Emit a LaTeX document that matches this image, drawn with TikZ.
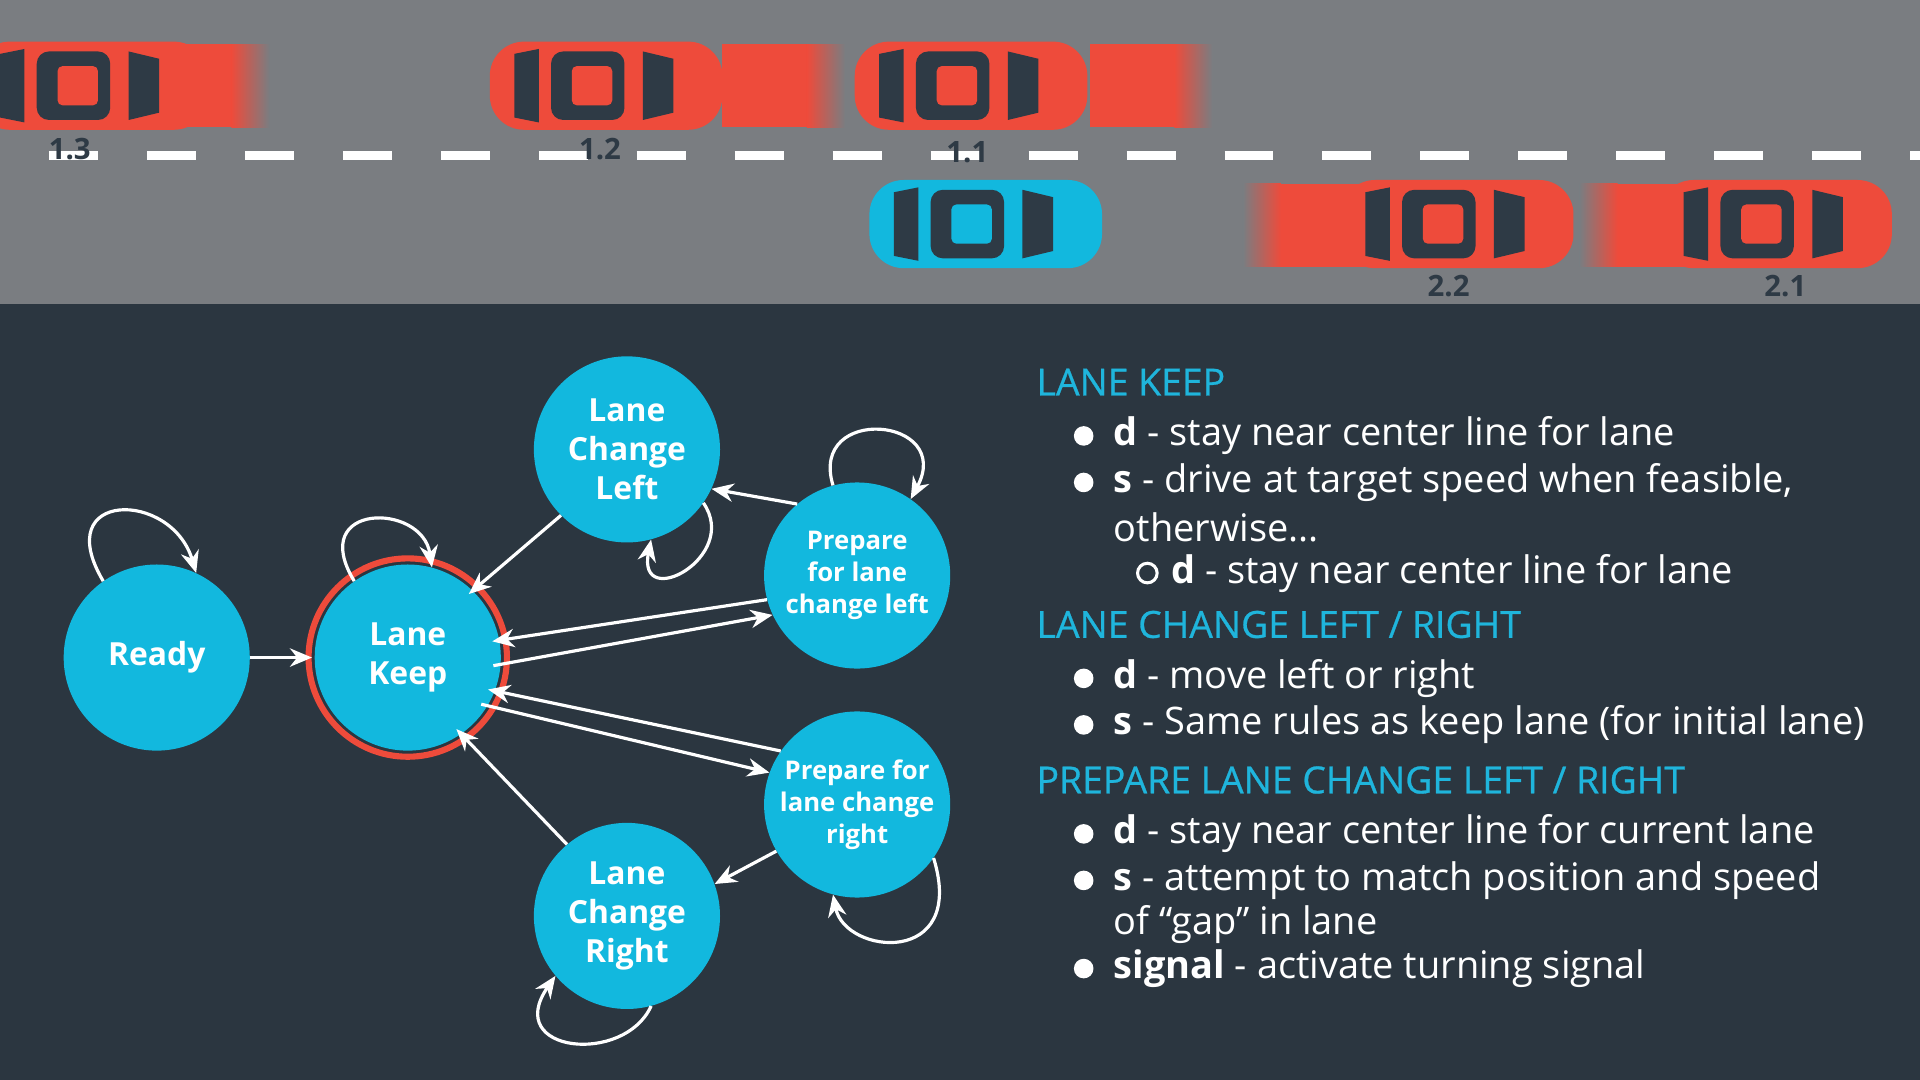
\documentclass[tikz,border=0pt]{standalone}
\usepackage{fontspec}
\setmainfont{Open Sans}
\usetikzlibrary{arrows.meta}
\definecolor{road}{HTML}{7A7D81}
\definecolor{bg}{HTML}{2B3640}
\definecolor{cy}{HTML}{12B8DE}
\definecolor{carred}{HTML}{EE4B3B}
\definecolor{win}{HTML}{2E3A45}
\definecolor{hd}{HTML}{1FB5DC}
\tikzset{
 st/.style={circle,fill=cy,minimum size=152pt,inner sep=0pt,text=white,align=center,font=\fontsize{26}{32}\selectfont\bfseries},
 sts/.style={st,font=\fontsize{21}{26}\selectfont\bfseries},
 ar/.style={draw=white,line width=2.6pt,-{Stealth[length=18pt,width=15pt]}},
 lab/.style={text=win,font=\fontsize{24}{24}\selectfont\bfseries},
 tx/.style={anchor=west,text=white,font=\fontsize{31}{33}\selectfont},
 hdr/.style={anchor=west,text=hd,font=\fontsize{30.5}{33}\selectfont\addfontfeature{FakeBold=0.7}},
 bul/.style={circle,fill=white,minimum size=16pt,inner sep=0pt}
}
\newcommand{\mycar}[3]{% x y color
 \begin{scope}[shift={(#1,#2)}]
 \fill[#3,rounded corners=28pt] (-95,-36) rectangle (95,36);
 \fill[win,rounded corners=10pt] (-45,-28) rectangle (15,28);
 \fill[#3,rounded corners=4pt] (-28,-16) rectangle (5,16);
 \fill[win] (-75,-26) -- (-55,-30) -- (-55,30) -- (-75,26) -- cycle;
 \fill[win] (30,-28) -- (55,-22) -- (55,22) -- (30,28) -- cycle;
 \end{scope}}
\begin{document}
\begin{tikzpicture}[x=1pt,y=-1pt]
\useasboundingbox (0,0) rectangle (1568,882);
\fill[bg] (0,0) rectangle (1568,882);
\fill[road] (0,0) rectangle (1568,248);
\draw[white,line width=8pt,dash pattern=on 40pt off 40pt,dash phase=-40pt] (0,127) -- (1568,127);
% trails
\foreach \x in {120,590,890}{\fill[carred] (\x,36) rectangle (\x+70,104);\shade[left color=carred,right color=road] (\x+69,36) rectangle (\x+100,104);}
\foreach \x in {1115,1390}{\fill[carred] (\x-70,150) rectangle (\x,218);\shade[right color=carred,left color=road] (\x-100,150) rectangle (\x-69,218);}
\mycar{75}{70}{carred}
\mycar{495}{70}{carred}
\mycar{793}{70}{carred}
\mycar{805}{183}{cy}
\mycar{1190}{183}{carred}
\mycar{1450}{183}{carred}
\node[lab] (l13) at (57,122) {1.3};
\node[lab] (l12) at (490,122) {1.2};
\node[lab] (l11) at (790,124) {1.1};
\node[lab] (l22) at (1183,234) {2.2};
\node[lab] (l21) at (1458,234) {2.1};
% states
\node[st] (R) at (128,537) {Ready};
\node[st] (LK) at (333,537) {Lane\\Keep};
\draw[carred,line width=5pt] (LK) circle (81pt);
\node[st] (LCL) at (512,367) {Lane\\Change\\Left};
\node[sts] (PL) at (700,470) {Prepare\\for lane\\change left};
\node[sts] (PR) at (700,657) {Prepare for\\lane change\\right};
\node[st] (LCR) at (512,748) {Lane\\Change\\Right};
\draw[ar] (R.east) -- ([xshift=-2pt]LK.west);
\draw[ar] (LCL.225) -- ([xshift=-4pt,yshift=-2pt]LK.45);
\draw[ar] (PL.130) -- (LCL.-25);
\draw[ar] (PL.195) -- ([xshift=-6pt]LK.10);
\draw[ar] ([xshift=-6pt]LK.-5) -- (PL.205);
\draw[ar] (PR.145) -- ([xshift=-6pt]LK.-20);
\draw[ar] ([xshift=-6pt]LK.-30) -- (PR.160);
\draw[ar] (PR.210) -- (LCR.20);
\draw[ar] (LCR.130) -- ([xshift=-4pt,yshift=4pt]LK.-55);
% loops
\draw[ar] (R.125) .. controls (40,400) and (140,400) .. (R.65);
\draw[ar] (LK.125) .. controls (250,410) and (345,410) .. (LK.75);
\draw[ar] (LCL.-35) .. controls (605,455) and (520,500) .. (LCL.-75);
\draw[ar] (PL.105) .. controls (660,330) and (780,340) .. (PL.55);
\draw[ar] (PR.-35) .. controls (790,790) and (690,780) .. (PR.-105);
\draw[ar] (LCR.-75) .. controls (510,870) and (410,860) .. (LCR.-140);
% text
\node[hdr] (h1) at (843,312) {LANE KEEP};
\node[bul] (b1) at (885,356) {}; \node[tx] (t1) at (906,356) {\textbf{d} - stay near center line for lane};
\node[bul] (b2) at (885,394) {}; \node[tx] (t2) at (906,394) {\textbf{s} - drive at target speed when feasible,};
\node[tx] (t3) at (906,431) {otherwise...};
\node[circle,draw=white,line width=2.5pt,minimum size=16pt,inner sep=0pt] (b3) at (937,468) {};
\node[tx] (t4) at (953,468) {\textbf{d} - stay near center line for lane};
\node[hdr] (h2) at (843,510) {LANE CHANGE LEFT / RIGHT};
\node[bul] (b4) at (885,554) {}; \node[tx] (t5) at (906,554) {\textbf{d} - move left or right};
\node[bul] (b5) at (885,592) {}; \node[tx] (t6) at (906,592) {\textbf{s} - Same rules as keep lane (for initial lane)};
\node[hdr] (h3) at (843,637) {PREPARE LANE CHANGE LEFT / RIGHT};
\node[bul] (b6) at (885,681) {}; \node[tx] (t7) at (906,681) {\textbf{d} - stay near center line for current lane};
\node[bul] (b7) at (885,719) {}; \node[tx] (t8) at (906,719) {\textbf{s} - attempt to match position and speed};
\node[tx] (t9) at (906,755) {of “gap” in lane};
\node[bul] (b8) at (885,791) {}; \node[tx] (t10) at (906,791) {\textbf{signal} - activate turning signal};
\end{tikzpicture}
\end{document}
